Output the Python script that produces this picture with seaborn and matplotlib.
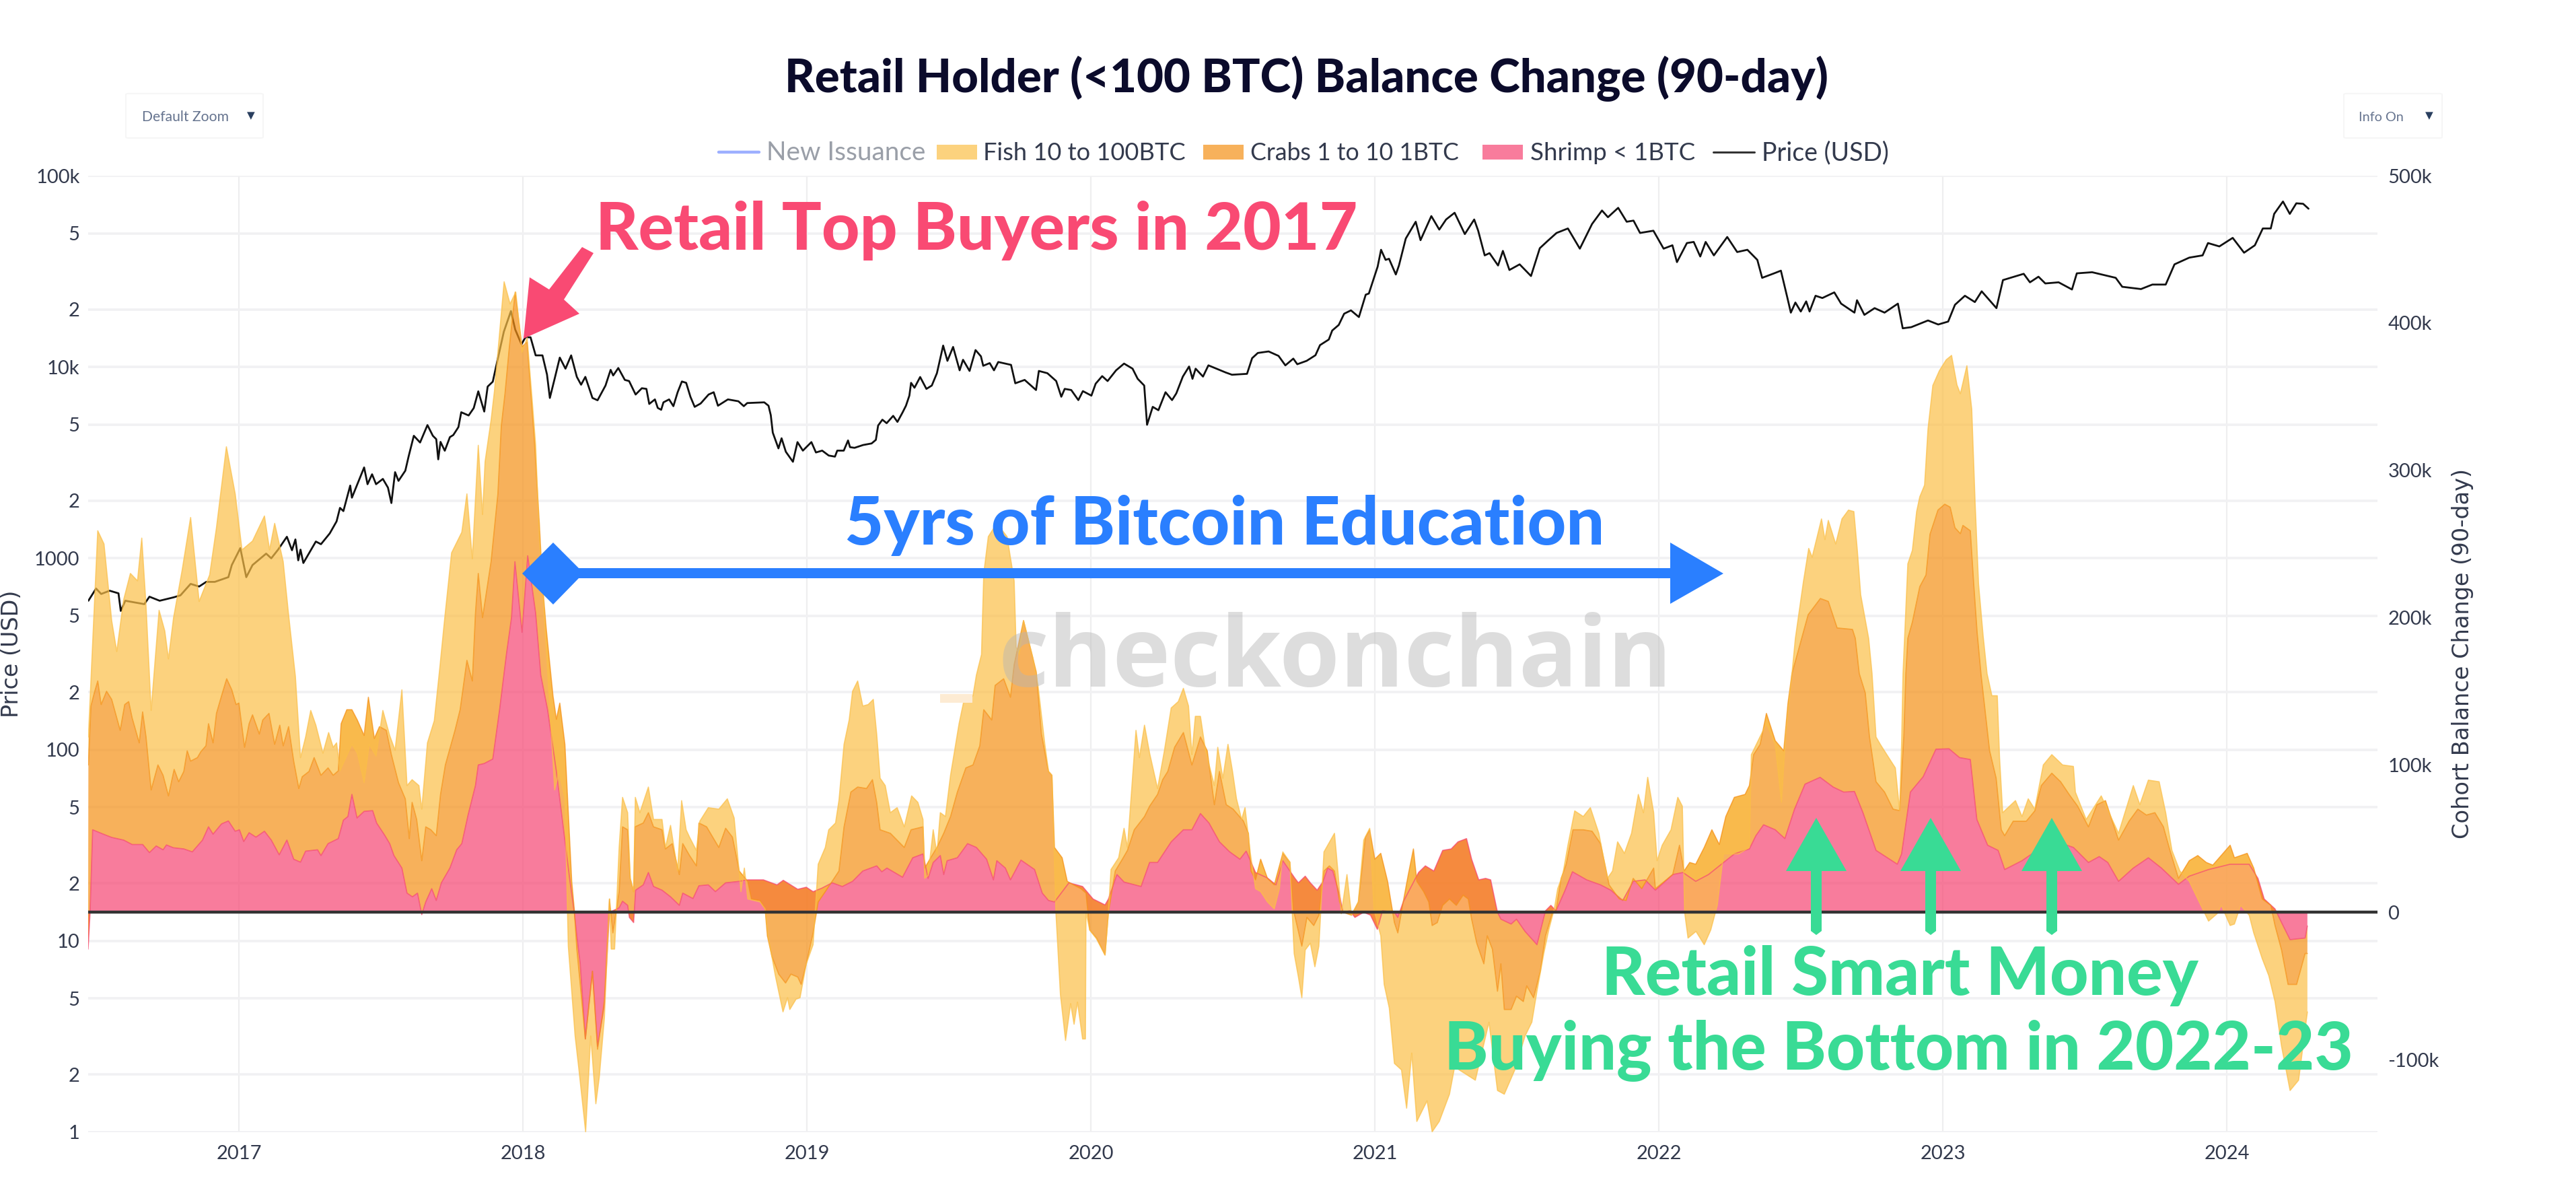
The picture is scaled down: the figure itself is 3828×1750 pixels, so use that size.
import numpy as np
import matplotlib
matplotlib.use("Agg")
import matplotlib.pyplot as plt
from matplotlib.patches import Polygon, Rectangle, FancyBboxPatch
from matplotlib.lines import Line2D
import seaborn as sns

W, H = 3828, 1750

# (decimal year, cohort balance change in thousand BTC, read as stacked edges)
shrimp = [(2016.469,-25),(2016.476,0),(2016.485,56),(2016.515,53.6),(2016.552,50.8),(2016.594,49),(2016.624,46),(2016.661,46),(2016.685,40.5),(2016.709,45),
 (2016.733,42.4),(2016.745,45.7),(2016.769,43.8),(2016.806,43),(2016.836,41),(2016.872,49),(2016.893,58),(2016.909,53),(2016.939,60),(2016.963,62),(2016.987,55),
 (2017.002,56),(2017.017,48),(2017.036,54),(2017.060,51),(2017.090,55),(2017.114,49),(2017.142,39),(2017.169,49),(2017.193,36),(2017.217,34),(2017.235,41.5),
 (2017.277,42.4),(2017.289,38.5),(2017.314,46.6),(2017.350,50),(2017.368,62.5),(2017.384,65),(2017.398,80),(2017.416,64),(2017.441,68.5),(2017.471,69),(2017.485,60.6),
 (2017.513,52.4),(2017.531,46.6),(2017.546,38.5),(2017.574,30),(2017.592,13),(2017.611,10.5),(2017.629,13),(2017.644,-1.6),(2017.658,7),(2017.679,16),(2017.695,8),
 (2017.713,20),(2017.743,30),(2017.767,42.4),(2017.785,46.6),(2017.807,66),(2017.833,86),(2017.843,100),(2017.864,101),(2017.894,104),(2017.918,137.5),(2017.942,175),
 (2017.960,200),(2017.972,238),(2017.997,190),(2018.017,242),(2018.045,203),(2018.063,161),(2018.087,137.5),(2018.118,95.6),(2018.142,58),(2018.166,21),(2018.181,0),
 (2018.190,-16),(2018.202,-35),(2018.220,-86),(2018.245,-40),(2018.263,-91),(2018.287,-63),(2018.305,0),(2018.339,3),(2018.351,7.5),(2018.369,4.7),(2018.375,-3.5),
 (2018.390,-7),(2018.397,15),(2018.424,18.6),(2018.442,27),(2018.460,17.5),(2018.490,15),(2018.520,10.5),(2018.551,4.7),(2018.563,13),(2018.599,9.3),(2018.620,18),
 (2018.653,18.6),(2018.678,14),(2018.714,20),(2018.762,21),(2018.792,22),(2018.847,22),(2018.895,18.6),(2018.917,21.7),(2018.968,15.6),(2018.998,17),(2019.022,14),
 (2019.052,16.3),(2019.089,20),(2019.125,17.5),(2019.161,21),(2019.197,28),(2019.246,31.5),(2019.264,27.5),(2019.282,30),(2019.337,23.8),(2019.373,37),(2019.409,39.6),
 (2019.427,23),(2019.445,33.8),(2019.470,38.5),(2019.482,25.6),(2019.494,35),(2019.530,37),(2019.566,46.6),(2019.597,44),(2019.633,36),(2019.657,22),(2019.669,35),
 (2019.699,30),(2019.717,22),(2019.754,35.4),(2019.802,29),(2019.829,13),(2019.851,8),(2019.872,7),(2019.923,20),(2019.971,17.5),(2020.008,9),(2020.050,5),(2020.062,9),
 (2020.092,25.6),(2020.117,20.5),(2020.177,17.5),(2020.207,33.8),(2020.235,33.8),(2020.283,47.8),(2020.326,56),(2020.356,56),(2020.386,67),(2020.416,60.6),(2020.453,47.8),
 (2020.489,41),(2020.525,36),(2020.547,41.5),(2020.562,35),(2020.580,27),(2020.622,23.3),(2020.652,18.6),(2020.676,35),(2020.719,23),(2020.731,20),(2020.755,24.5),
 (2020.773,20),(2020.797,15),(2020.818,21),(2020.834,30),(2020.852,28),(2020.876,11.6),(2020.888,0),(2020.912,1),(2020.930,-3.5),(2020.961,0),(2020.985,-2),(2021.009,-11.6),
 (2021.027,1),(2021.069,0),(2021.081,-3.5),(2021.100,7),(2021.154,27),(2021.178,31.5),(2021.208,28),(2021.239,42),(2021.269,43),(2021.293,47.8),(2021.323,50),(2021.341,36),
 (2021.366,22),(2021.390,23),(2021.408,22),(2021.432,0),(2021.444,-4.7),(2021.480,-8),(2021.499,-4.7),(2021.529,-13),(2021.571,-22),(2021.601,1),(2021.620,4.7),(2021.638,1),
 (2021.668,14),(2021.696,27.5),(2021.746,22),(2021.795,18.6),(2021.831,15),(2021.873,8),(2021.910,21),(2021.952,22),(2021.988,15),(2022.049,25.6),(2022.085,27),(2022.130,21),
 (2022.175,25.6),(2022.236,35),(2022.266,39.6),(2022.319,43),(2022.342,52),(2022.369,59.4),(2022.410,56),(2022.444,50),(2022.478,70),(2022.515,87),(2022.568,91.6),(2022.614,85),
 (2022.651,81.6),(2022.689,82),(2022.719,67.6),(2022.765,42),(2022.840,32.6),(2022.855,39.6),(2022.886,81.6),(2022.931,92),(2022.976,110.7),(2023.022,111),(2023.059,105),
 (2023.097,103.7),(2023.120,63),(2023.158,45.5),(2023.195,42),(2023.218,29),(2023.279,35),(2023.384,49),(2023.460,44),(2023.513,33.8),(2023.551,37.8),(2023.581,33.8),
 (2023.619,21),(2023.671,30),(2023.724,37),(2023.770,30),(2023.830,19),(2023.868,24.5),(2023.936,29),(2024.012,32.6),(2024.079,32.6),(2024.110,23),(2024.132,9),(2024.170,2.3),
 (2024.193,-7),(2024.223,-18.6),(2024.276,-17.5),(2024.284,-9.3)]

crabs_stacked = [(2016.470,100),(2016.479,140),(2016.491,149),(2016.503,157),(2016.515,141),(2016.534,150),(2016.552,144.5),(2016.582,123.5),(2016.598,141),(2016.612,143),
 (2016.624,132),(2016.649,115),(2016.661,136),(2016.673,119),(2016.691,83),(2016.715,100),(2016.733,93),(2016.752,79),(2016.772,97),(2016.788,88.6),(2016.806,95.6),(2016.818,109.6),
 (2016.830,102.6),(2016.854,105),(2016.866,109),(2016.884,113),(2016.893,128),(2016.909,115),(2016.921,135),(2016.939,147),(2016.957,158.5),(2016.975,151),(2016.990,141),(2017.0,142),
 (2017.020,112),(2017.036,128),(2017.048,134),(2017.072,121),(2017.084,130.5),(2017.106,135),(2017.126,114),(2017.144,127),(2017.156,113),(2017.175,126),(2017.193,102.6),(2017.211,84),
 (2017.223,92),(2017.247,95.6),(2017.265,105),(2017.289,93),(2017.314,98),(2017.332,93),(2017.350,96),(2017.360,128),(2017.380,137.5),(2017.398,137.5),(2017.417,130.5),(2017.441,120),
 (2017.456,146),(2017.477,118),(2017.495,126),(2017.519,123.5),(2017.537,107),(2017.562,88),(2017.586,77),(2017.600,50),(2017.610,74.6),(2017.626,63),(2017.644,35),(2017.658,58),
 (2017.676,56),(2017.695,52),(2017.710,80),(2017.727,100),(2017.761,123.5),(2017.779,137.5),(2017.803,171),(2017.822,157),(2017.833,203),(2017.843,230),(2017.858,200),(2017.888,238),
 (2017.912,284),(2017.924,330),(2017.937,352),(2017.952,383),(2017.973,421),(2017.997,384),(2018.015,387),(2018.040,322),(2018.058,264),(2018.069,223),(2018.082,193),(2018.106,147),
 (2018.118,131),(2018.130,142),(2018.148,114),(2018.160,67.6),(2018.172,21),(2018.181,2),(2018.190,-25),(2018.202,-49),(2018.220,-86),(2018.245,-40),(2018.263,-93),(2018.287,-60),
 (2018.305,9),(2018.317,-14),(2018.339,14),(2018.351,58),(2018.369,56),(2018.378,23),(2018.390,14),(2018.395,58),(2018.424,60.6),(2018.442,67.6),(2018.460,58),(2018.490,56),
 (2018.502,43),(2018.526,46.6),(2018.551,25.6),(2018.563,46.6),(2018.587,38.5),(2018.611,31.5),(2018.620,60.6),(2018.647,58),(2018.690,44),(2018.714,57),(2018.738,51),(2018.762,28),
 (2018.792,21),(2018.805,9),(2018.835,8),(2018.853,2.3),(2018.861,-16),(2018.877,-30),(2018.901,-42),(2018.925,-48),(2018.944,-42),(2018.968,-44),(2018.980,-49),(2018.998,-35),
 (2019.022,-14),(2019.040,7),(2019.065,14),(2019.089,21),(2019.113,28),(2019.131,58),(2019.155,81.6),(2019.179,85),(2019.210,84),(2019.231,90),(2019.246,74.6),(2019.258,56),
 (2019.294,53.6),(2019.343,44),(2019.367,56),(2019.409,58),(2019.415,30),(2019.433,36),(2019.458,44),(2019.482,53.6),(2019.506,65),(2019.530,81.6),(2019.560,98),(2019.585,100),
 (2019.609,113),(2019.623,137.5),(2019.651,130.5),(2019.663,154),(2019.693,158.5),(2019.717,146),(2019.730,168),(2019.763,198),(2019.796,172.5),(2019.808,163),(2019.826,121),
 (2019.851,95.6),(2019.863,93),(2019.872,44),(2019.899,37),(2019.917,21),(2019.935,19),(2019.965,16),(2019.983,13),(2019.996,-12),(2020.020,-17.5),(2020.050,-29),(2020.062,0),
 (2020.086,28),(2020.111,36),(2020.129,42),(2020.153,56),(2020.189,65),(2020.207,72),(2020.235,80),(2020.253,90),(2020.271,95.6),(2020.295,112),(2020.326,122),(2020.356,100),
 (2020.386,119),(2020.410,109.6),(2020.435,73),(2020.453,95.6),(2020.477,73),(2020.501,70),(2020.537,62),(2020.555,53.6),(2020.564,28),(2020.580,22),(2020.598,36),(2020.622,23),
 (2020.646,18.6),(2020.676,40),(2020.701,34),(2020.713,2),(2020.725,-8),(2020.743,-23),(2020.761,-3.5),(2020.785,-9),(2020.803,-2),(2020.821,28),(2020.840,31.5),(2020.858,28),
 (2020.876,7),(2020.888,0),(2020.918,-2),(2020.942,7),(2020.967,51),(2020.982,56),(2021.000,36),(2021.021,40),(2021.045,21),(2021.069,-7),(2021.081,-14),(2021.100,7),(2021.118,25.6),
 (2021.136,43),(2021.148,21),(2021.172,14),(2021.190,7),(2021.202,-9),(2021.220,-7),(2021.239,4.7),(2021.263,9),(2021.287,4.7),(2021.311,11.6),(2021.329,9),(2021.341,-4.7),
 (2021.359,-21),(2021.384,-35),(2021.396,-16),(2021.414,-25),(2021.432,-53.6),(2021.444,-35),(2021.456,-66),(2021.480,-66),(2021.499,-57),(2021.523,-60.6),(2021.535,-50),(2021.559,-58),
 (2021.583,-40),(2021.601,-16),(2021.626,0),(2021.638,1),(2021.656,23),(2021.674,32.6),(2021.698,56),(2021.734,56),(2021.765,55),(2021.795,46.6),(2021.813,30),(2021.825,18.6),
 (2021.861,9),(2021.885,8),(2021.910,23),(2021.940,16),(2021.982,30),(2021.988,16),(2022.049,25.6),(2022.073,45.5),(2022.089,28),(2022.109,33.8),(2022.130,32.6),(2022.160,44),
 (2022.187,56),(2022.213,46),(2022.236,65),(2022.266,78),(2022.304,80),(2022.319,86),(2022.334,107),(2022.357,114),(2022.379,135),(2022.410,116.5),(2022.440,109.6),(2022.455,142),
 (2022.469,162),(2022.526,202),(2022.569,213),(2022.597,211),(2022.628,193),(2022.682,192),(2022.692,186),(2022.706,162),(2022.727,149),(2022.742,119),(2022.765,88.6),(2022.795,81.6),
 (2022.825,70),(2022.848,69),(2022.863,120),(2022.870,162),(2022.877,186),(2022.893,197),(2022.919,221),(2022.941,229),(2022.955,256.6),(2022.983,273),(2023.007,277),(2023.026,275),
 (2023.043,261),(2023.062,257),(2023.071,262.6),(2023.097,259),(2023.109,223),(2023.121,190),(2023.135,161),(2023.165,109.6),(2023.188,91),(2023.206,56),(2023.218,52),(2023.248,61.8),
 (2023.294,61.8),(2023.324,68.8),(2023.347,86),(2023.384,94.4),(2023.415,88.6),(2023.445,80),(2023.475,72),(2023.513,58),(2023.543,73),(2023.573,75.8),(2023.619,49),(2023.656,61.8),
 (2023.687,70),(2023.717,66),(2023.747,67.6),(2023.777,58),(2023.800,42),(2023.830,23),(2023.868,35),(2023.898,38.5),(2023.928,33.8),(2023.951,32),(2024.012,45.5),(2024.027,37),
 (2024.072,40),(2024.095,30),(2024.125,9),(2024.155,4.7),(2024.170,-9),(2024.193,-25.6),(2024.216,-49),(2024.246,-49),(2024.276,-28),(2024.284,-28)]

fish_stacked = [(2016.470,119),(2016.503,259),(2016.525,250),(2016.552,198),(2016.570,177),(2016.594,212),(2016.618,230),(2016.643,225),(2016.658,254),(2016.673,208),(2016.691,137),
 (2016.719,205),(2016.739,191),(2016.752,172),(2016.770,200),(2016.800,232),(2016.830,268),(2016.860,211),(2016.897,229),(2016.921,261),(2016.956,316),(2016.987,284),(2017.011,246),
 (2017.048,252),(2017.090,269),(2017.108,246),(2017.126,264),(2017.156,238),(2017.175,202),(2017.199,160),(2017.217,105),(2017.235,119),(2017.253,137),(2017.271,127),(2017.296,108),
 (2017.316,122),(2017.332,112),(2017.344,115),(2017.356,96),(2017.398,114),(2017.417,108),(2017.441,88),(2017.459,114),(2017.483,106),(2017.507,137),(2017.531,120),(2017.550,110),
 (2017.574,151),(2017.592,86),(2017.610,90),(2017.634,86),(2017.644,70),(2017.664,115),(2017.688,130),(2017.707,165),(2017.725,200),(2017.749,244),(2017.785,258),(2017.803,284),
 (2017.822,240),(2017.843,317),(2017.858,270),(2017.867,306),(2017.888,334),(2017.900,354),(2017.934,428),(2017.955,413),(2017.975,421),(2017.997,380),(2018.015,390),(2018.033,347),
 (2018.045,317),(2018.058,253),(2018.069,223),(2018.088,161),(2018.112,83),(2018.127,95.6),(2018.148,77),(2018.160,-23),(2018.184,-84),(2018.197,-106),(2018.221,-149),(2018.239,-84),
 (2018.257,-130),(2018.269,-112),(2018.287,-72),(2018.305,9),(2018.311,-25),(2018.323,-25),(2018.339,44),(2018.351,78),(2018.369,67.6),(2018.378,23),(2018.390,14),(2018.396,78),
 (2018.412,67.6),(2018.442,85),(2018.460,63),(2018.490,63),(2018.502,44),(2018.520,59),(2018.545,28),(2018.559,75.8),(2018.575,56),(2018.587,51),(2018.611,42),(2018.623,61.8),
 (2018.653,71),(2018.690,70),(2018.720,77),(2018.744,64),(2018.768,14),(2018.780,30),(2018.792,9),(2018.835,7),(2018.853,2.3),(2018.865,-17.5),(2018.889,-43),(2018.916,-67.6),
 (2018.932,-58),(2018.940,-66),(2018.962,-59),(2018.976,-58),(2018.998,-35),(2019.022,-22),(2019.040,32.6),(2019.065,44),(2019.077,56),(2019.101,60.6),(2019.113,75.8),(2019.131,114),
 (2019.149,130.5),(2019.161,150),(2019.179,157),(2019.197,140),(2019.216,141),(2019.234,144.5),(2019.246,121),(2019.258,91),(2019.276,86),(2019.294,67.6),(2019.318,71),(2019.343,58),
 (2019.369,79),(2019.391,74.6),(2019.409,63),(2019.415,23),(2019.427,25),(2019.445,56),(2019.458,39.6),(2019.470,67.6),(2019.488,65),(2019.506,93),(2019.536,128),(2019.554,144.5),
 (2019.585,147),(2019.597,161),(2019.615,175),(2019.623,230),(2019.639,255),(2019.669,264),(2019.705,255),(2019.730,225),(2019.737,180),(2019.748,175),(2019.763,198),(2019.796,172.5),
 (2019.814,154),(2019.838,114),(2019.851,95.6),(2019.863,93),(2019.877,0),(2019.893,-56),(2019.911,-87),(2019.929,-62),(2019.941,-76),(2019.953,-61),(2019.971,-86),(2019.981,-86),
 (2019.983,0),(2019.996,-12),(2020.020,-18),(2020.050,-29),(2020.062,0),(2020.071,29),(2020.098,37),(2020.117,57),(2020.129,44),(2020.159,123.5),(2020.171,105),(2020.189,127),
 (2020.207,108),(2020.235,84),(2020.259,109.6),(2020.283,138.7),(2020.308,143),(2020.326,152),(2020.344,140),(2020.356,107),(2020.368,133),(2020.386,133),(2020.404,109.6),(2020.435,86),
 (2020.447,112),(2020.465,91),(2020.483,114),(2020.499,95.6),(2020.513,77),(2020.531,63),(2020.543,71),(2020.562,39.6),(2020.580,16),(2020.598,14),(2020.622,7),(2020.646,2.3),
 (2020.664,16),(2020.676,41),(2020.701,34),(2020.716,-28),(2020.731,-44),(2020.743,-58),(2020.755,-25.6),(2020.773,-21),(2020.789,-37),(2020.803,-23),(2020.821,41),(2020.858,53.6),
 (2020.870,28),(2020.882,-1),(2020.902,25.6),(2020.918,-2),(2020.942,7),(2020.961,49),(2020.982,57),(2020.997,2),(2021.021,-16),(2021.033,-49),(2021.051,-65),(2021.069,-102.6),
 (2021.094,-107),(2021.112,-133),(2021.130,-95.6),(2021.148,-142),(2021.166,-135),(2021.184,-128),(2021.202,-149),(2021.227,-142),(2021.263,-123.5),(2021.281,-105),(2021.354,-114),
 (2021.402,-74.6),(2021.432,-121),(2021.456,-123.5),(2021.493,-107),(2021.529,-84),(2021.553,-74.6),(2021.571,-53.6),(2021.595,-28),(2021.613,-11.6),(2021.632,2.3),(2021.644,16),
 (2021.662,25.6),(2021.680,45.5),(2021.704,68.8),(2021.734,65),(2021.759,71),(2021.789,53.6),(2021.819,23),(2021.837,28),(2021.855,47.8),(2021.879,40),(2021.904,53.6),(2021.928,80),
 (2021.946,67.6),(2021.961,91.6),(2021.982,67.6),(2021.994,35),(2022.012,45.5),(2022.043,56),(2022.067,78),(2022.083,72),(2022.091,0),(2022.103,-17.5),(2022.131,-13),(2022.160,-22),
 (2022.183,-12),(2022.206,4.7),(2022.228,39.6),(2022.281,39.6),(2022.319,44),(2022.326,107),(2022.379,128),(2022.410,114),(2022.432,74.6),(2022.447,121),(2022.462,149),(2022.469,162),
 (2022.481,186),(2022.509,224),(2022.528,247),(2022.540,241),(2022.573,267),(2022.585,253),(2022.597,266),(2022.623,250),(2022.645,267),(2022.668,273),(2022.687,272),(2022.699,246),
 (2022.711,215.5),(2022.727,198.6),(2022.739,186),(2022.751,162),(2022.765,119),(2022.780,114),(2022.803,107),(2022.833,98),(2022.848,69),(2022.855,114),(2022.860,162),(2022.877,236.5),
 (2022.893,245.7),(2022.908,272),(2022.919,282),(2022.936,290),(2022.948,328),(2022.965,357.6),(2022.988,367.6),(2023.012,375),(2023.031,378),(2023.050,358),(2023.062,352),(2023.085,371),
 (2023.102,341.6),(2023.114,277.6),(2023.126,223),(2023.142,188),(2023.156,162),(2023.173,147),(2023.192,147),(2023.200,105),(2023.211,67.6),(2023.256,75.8),(2023.279,65),(2023.301,77),
 (2023.324,70),(2023.354,100),(2023.384,107),(2023.422,100),(2023.460,99),(2023.467,81.6),(2023.505,63),(2023.558,79),(2023.619,53.6),(2023.671,86),(2023.694,73),(2023.724,89.7),
 (2023.762,88.6),(2023.785,67.6),(2023.807,42),(2023.835,28),(2023.868,21),(2023.898,9),(2023.936,-6),(2023.966,-1),(2023.981,4.7),(2024.012,-9),(2024.027,-8),(2024.049,4.7),(2024.079,-2),
 (2024.095,-14),(2024.125,-31.5),(2024.148,-43),(2024.170,-60.6),(2024.193,-91),(2024.223,-121),(2024.253,-114),(2024.284,-67.6)]

price = [(2016.470,600),(2016.497,695),(2016.515,651),(2016.545,677),(2016.576,656),(2016.584,531),(2016.600,600),(2016.667,576),(2016.685,630),(2016.721,600),(2016.770,625),(2016.794,640),
 (2016.830,735),(2016.860,712),(2016.885,753),(2016.915,753),(2016.963,797),(2016.975,922),(2017.005,1130),(2017.026,797),(2017.048,922),(2017.096,1058),(2017.114,1000),(2017.138,1110),
 (2017.169,1296),(2017.187,1102),(2017.199,1255),(2017.209,976),(2017.217,1110),(2017.227,945),(2017.271,1224),(2017.289,1185),(2017.320,1350),(2017.344,1560),(2017.356,1835),(2017.368,1765),
 (2017.392,2400),(2017.398,2075),(2017.441,2985),(2017.453,2440),(2017.469,2750),(2017.483,2440),(2017.507,2600),(2017.525,2340),(2017.537,1945),(2017.550,2820),(2017.562,2540),(2017.586,2870),
 (2017.598,3425),(2017.616,4370),(2017.638,4030),(2017.664,4970),(2017.683,4370),(2017.695,4195),(2017.702,3290),(2017.710,4060),(2017.725,3650),(2017.743,4300),(2017.755,4410),(2017.773,4850),
 (2017.783,5800),(2017.809,5580),(2017.827,6100),(2017.843,7460),(2017.864,5850),(2017.876,7900),(2017.894,8380),(2017.912,11100),(2017.933,15300),(2017.958,19600),(2017.973,15700),(2017.995,13150),
 (2018.009,14300),(2018.027,14300),(2018.045,11500),(2018.069,11500),(2018.085,9130),(2018.095,6890),(2018.112,8700),(2018.130,11200),(2018.150,9800),(2018.170,11500),(2018.190,8880),(2018.205,8080),
 (2018.220,8880),(2018.245,6890),(2018.263,6700),
 (2018.291,8000),(2018.309,9665),(2018.318,9030),(2018.336,9880),(2018.359,8560),(2018.374,8445),(2018.397,7180),(2018.419,7745),(2018.435,7685),(2018.445,6410),(2018.465,6770),(2018.475,6110),
 (2018.487,5975),(2018.495,6535),(2018.515,6770),(2018.530,6240),(2018.545,7380),(2018.560,8400),(2018.575,8265),(2018.590,6990),(2018.605,6190),(2018.626,6445),(2018.654,7180),(2018.672,7380),
 (2018.687,6275),(2018.722,6770),(2018.759,6620),(2018.778,6240),(2018.790,6480),(2018.850,6535),(2018.865,6275),(2018.873,5600),(2018.880,4540),(2018.900,3755),(2018.911,4240),(2018.926,3605),
 (2018.951,3195),(2018.967,4050),(2018.986,3655),(2019.016,4050),(2019.032,3575),(2019.054,3655),(2019.077,3445),(2019.099,3400),(2019.107,3655),(2019.130,3655),(2019.145,4130),(2019.152,3810),
 (2019.168,3780),(2019.198,3910),(2019.228,3985),(2019.243,4160),(2019.251,4945),(2019.266,5305),(2019.281,5085),(2019.304,5555),(2019.319,5165),(2019.337,5785),(2019.349,6275),(2019.361,7085),
 (2019.367,8265),(2019.379,7790),(2019.399,8865),(2019.421,7685),(2019.440,8000),(2019.458,9280),(2019.480,12940),(2019.495,10770),(2019.515,12730),(2019.538,9610),(2019.550,10910),(2019.573,9535),
 (2019.594,12260),(2019.613,11370),(2019.621,10150),(2019.644,10480),(2019.659,9610),(2019.674,10620),(2019.719,10260),(2019.734,8220),(2019.767,8560),(2019.807,7580),(2019.817,9535),(2019.847,9280),
 (2019.878,8445),(2019.896,6990),(2019.908,7685),(2019.931,7580),(2019.956,6715),(2019.972,7480),(2020.002,7085),(2020.017,8180),(2020.040,8960),(2020.059,8445),(2020.089,9610),(2020.117,10420),
 (2020.147,9800),(2020.165,8675),(2020.188,8000),(2020.198,4990),(2020.218,6190),(2020.238,5945),(2020.263,7380),(2020.286,6715),(2020.301,7280),(2020.324,8910),(2020.346,10060),(2020.358,8675),
 (2020.369,9800),(2020.395,8910),(2020.414,10200),(2020.475,9360),(2020.497,9110),(2020.550,9210),(2020.568,11120),(2020.588,11840),(2020.626,12060),(2020.661,11430),
 (2020.685,10200),(2020.713,11060),(2020.727,10340),(2020.760,10770),(2020.791,11520),(2020.807,13010),(2020.838,13920),(2020.850,15510),(2020.873,16590),(2020.892,18990),(2020.916,19770),(2020.944,18240),
 (2020.968,23880),(2020.979,24210),(2021.010,33470),(2021.022,40990),(2021.038,36300),(2021.050,36790),(2021.074,30450),(2021.085,33930),(2021.109,46920),(2021.144,57450),(2021.161,46030),(2021.199,61500),
 (2021.227,52270),(2021.251,59030),(2021.281,64000),(2021.317,49520),(2021.350,59030),(2021.364,51570),(2021.387,38320),(2021.404,39370),(2021.434,33930),(2021.451,40440),(2021.474,32140),(2021.510,34400),
 (2021.550,29890),(2021.581,41780),(2021.609,45660),(2021.640,50200),(2021.680,52980),(2021.722,41550),(2021.765,55920),(2021.800,65770),(2021.821,60670),(2021.857,67920),(2021.887,57450),(2021.911,58240),
 (2021.934,50200),(2021.981,51570),(2022.017,41550),(2022.048,43270),(2022.064,35340),(2022.099,44450),(2022.123,45060),(2022.146,37800),(2022.165,45060),(2022.194,38320),(2022.241,47820),(2022.276,39900),
 (2022.312,40990),(2022.347,36300),(2022.364,29250),(2022.406,30870),(2022.430,31880),(2022.453,22940),(2022.465,19240),(2022.481,21730),(2022.500,19500),(2022.519,22030),(2022.531,19500),(2022.552,23570),
 (2022.576,22940),(2022.618,24550),(2022.642,21440),(2022.689,19240),(2022.698,22330),(2022.724,18730),(2022.760,20310),(2022.795,19240),(2022.842,21440),(2022.859,15930),(2022.889,16150),(2022.948,17510),
 (2022.984,16680),(2023.019,17280),(2023.043,21150),(2023.078,23570),(2023.113,21850),(2023.137,24870),(2023.189,20310),(2023.212,28470),(2023.285,30700),(2023.307,27710),(2023.337,29650),(2023.361,27340),
 (2023.408,27710),(2023.455,25420),(2023.472,30870),(2023.526,31290),(2023.609,29250),(2023.632,26260),(2023.698,25550),(2023.738,26970),(2023.785,26970),(2023.816,34400),(2023.868,37300),(2023.915,38320),
 (2023.934,44450),(2023.974,42690),(2024.021,47310),(2024.061,39580),(2024.099,43270),(2024.127,52980),(2024.155,52980),(2024.167,63150),(2024.198,73300),(2024.222,63150),(2024.245,71720),(2024.269,71300),(2024.288,67200)]

year_ticks = [2017, 2018, 2019, 2020, 2021, 2022, 2023, 2024]
price_ticks = [1, 2, 5, 10, 20, 50, 100, 200, 500, 1000, 2000, 5000, 10000, 20000, 50000, 100000]
price_labels = ["1", "2", "5", "10", "2", "5", "100", "2", "5", "1000", "2", "5", "10k", "2", "5", "100k"]
cohort_ticks = [-100, 0, 100, 200, 300, 400, 500]
cohort_labels = ["-100k", "0", "100k", "200k", "300k", "400k", "500k"]

FISH = (251/255, 191/255, 71/255, 0.7)
CRAB = (245/255, 145/255, 22/255, 0.7)
PINK = (246/255, 69/255, 114/255, 0.7)
FONT = "Lato"


def px(x, y):
    return x / W, 1 - y / H


def fit_text(fig, x0, x1, y, s, color, weight=900, size=60, family=FONT):
    # left edge, right edge and baseline are in picture pixels
    t = fig.text(*px(x0, y), s, color=color, fontweight=weight, fontsize=size,
                 family=family, ha="left", va="baseline", zorder=20)
    w = t.get_window_extent(fig.canvas.get_renderer()).width
    t.set_fontsize(size * (x1 - x0) / w)
    return t


def poly(fig, pts, color, zorder=15):
    xy = [px(a, b) for a, b in pts]
    fig.add_artist(Polygon(xy, closed=True, facecolor=color, edgecolor="none",
                           transform=fig.transFigure, zorder=zorder))


def band(ax, upper, lower, face):
    up = np.array(upper)
    lo = np.array(lower)[::-1]
    ax.fill(np.r_[up[:, 0], lo[:, 0]], np.r_[up[:, 1], lo[:, 1]], color=face, lw=0)
    sns.lineplot(x=up[:, 0], y=up[:, 1], ax=ax, color=face, lw=1.2, estimator=None, errorbar=None)


def main():
    sns.set_theme(style="white")
    plt.rcParams["font.family"] = [FONT, "DejaVu Sans"]
    fig = plt.figure(figsize=(W / 100, H / 100), dpi=100, facecolor="white")
    ax = fig.add_axes([131 / W, 1 - 1682 / H, (3533 - 131) / W, (1682 - 261) / H])

    # price sits under the fills, same as the source chart
    p = np.array(price)
    ax.set_yscale("log")
    sns.lineplot(x=p[:, 0], y=p[:, 1], ax=ax, color="#111111", lw=2, estimator=None, errorbar=None, zorder=3)
    ax.set_xlim(2017 - 224 / 422, 2017 + (3533 - 355) / 422)
    ax.set_ylim(1, 100000)
    ax.set_yticks(price_ticks)
    ax.set_yticklabels(price_labels)
    ax.minorticks_off()
    ax.set_xticks(year_ticks)
    ax.set_xticklabels([str(y) for y in year_ticks])
    ax.tick_params(axis="both", length=0, labelsize=21, labelcolor="#333a4d")
    ax.tick_params(axis="x", pad=14)
    ax.tick_params(axis="y", pad=9)
    ax.grid(True, axis="y", color="#f1f1f3", lw=2.6)
    ax.grid(True, axis="x", color="#eeeeef", lw=1.6)
    ax.set_axisbelow(True)
    sns.despine(ax=ax, left=True, bottom=True)
    fig.text(18 / W, 1 - 971 / H, "Price (USD)", rotation=90, ha="center", va="center",
             fontsize=24, color="#333a4d", family="DejaVu Sans")

    ax2 = ax.twinx()
    ax2.patch.set_visible(False)
    ax2.set_ylim((1355 - 1682) / 2.19, (1355 - 261) / 2.19)
    s = np.array(shrimp)
    ax2.fill(np.r_[s[:, 0], s[-1, 0], s[0, 0]], np.r_[s[:, 1], 0, 0], color=PINK, lw=0)
    sns.lineplot(x=s[:, 0], y=s[:, 1], ax=ax2, color=PINK, lw=1.2, estimator=None, errorbar=None)
    band(ax2, crabs_stacked, shrimp, CRAB)
    band(ax2, fish_stacked, crabs_stacked, FISH)
    ax2.axhline(0, color="#333333", lw=3.2, zorder=6)
    ax2.set_yticks(cohort_ticks)
    ax2.set_yticklabels(cohort_labels)
    ax2.tick_params(axis="y", length=0, labelsize=21, labelcolor="#333a4d", pad=11)
    ax2.grid(False)
    sns.despine(ax=ax2, left=True, bottom=True, right=True)
    fig.text(3659 / W, 1 - 971 / H, "Cohort Balance Change (90-day)", rotation=90, ha="center", va="center",
             fontsize=24.2, color="#333a4d", family="DejaVu Sans")

    # watermark
    fit_text(fig, 1484, 2485, 1020, "checkonchain", "#b5b5b5", weight="bold", size=120, family="Open Sans").set_alpha(0.45)
    fig.add_artist(Rectangle(px(1397, 1044), 48 / W, 13 / H, facecolor="#fdebd3", edgecolor="none",
                             transform=fig.transFigure, zorder=1))

    # title, legend row, the two dropdown boxes
    fit_text(fig, 1166, 2717, 137, "Retail Holder (<100 BTC) Balance Change (90-day)", "#0b0b2b", size=50)
    row = 226
    fig.add_artist(Line2D([1068 / W, 1128 / W], [1 - row / H] * 2, color="#9dafff", lw=3.2, transform=fig.transFigure))
    for x0, col in [(1392, FISH), (1788, CRAB), (2203, PINK)]:
        fig.add_artist(Rectangle(px(x0, row + 11), 60 / W, 22 / H, facecolor=col, edgecolor="none", transform=fig.transFigure))
    fig.add_artist(Line2D([2546 / W, 2607 / W], [1 - row / H] * 2, color="#333333", lw=2.2, transform=fig.transFigure))
    legend_items = [(1139, 1375, "New Issuance", "#9a9fa8"), (1461, 1762, "Fish 10 to 100BTC", "#333a4d"),
                    (1858, 2168, "Crabs 1 to 10 1BTC", "#333a4d"), (2274, 2519, "Shrimp < 1BTC", "#333a4d"),
                    (2618, 2807, "Price (USD)", "#333a4d")]
    for x0, x1, label, col in legend_items:
        fit_text(fig, x0, x1, row + 12, label, col, weight="normal", size=26)

    for x0, x1, label, t0, t1, arrow_x in [(187, 391, "Default Zoom", 211, 340, 373), (3483, 3629, "Info On", 3505, 3572, 3610)]:
        fig.add_artist(FancyBboxPatch(px(x0, 205), (x1 - x0) / W, 66 / H, boxstyle="round,pad=0,rounding_size=0.001",
                                      facecolor="white", edgecolor="#f6f6f6", lw=1.5, transform=fig.transFigure))
        fit_text(fig, t0, t1, 180, label, "#66748f", weight="normal", size=15)
        fig.text(arrow_x / W, 1 - 172 / H, "\u25bc", fontsize=11, color="#2a3f5f", ha="center", va="center", family="DejaVu Sans")

    # pink callout arrow
    pink = "#f94a73"
    poly(fig, [(778, 503), (787, 412), (816, 430), (865, 367), (882, 376), (838, 445), (861, 466)], pink)
    fit_text(fig, 885, 2018, 371, "Retail Top Buyers in 2017", pink, size=70)

    # blue span arrow
    blue = "#2a7fff"
    poly(fig, [(776, 852), (822, 806), (860, 844), (2482, 844), (2482, 806), (2561, 852), (2482, 897), (2482, 859), (860, 859), (822, 898)], blue)
    fit_text(fig, 1255, 2384, 809, "5yrs of Bitcoin Education", blue, size=70)

    # green arrows and text
    green = "#39db95"
    for tip in [2699, 2869, 3049]:
        poly(fig, [(tip, 1215), (tip + 45, 1294), (tip + 8, 1294), (tip + 8, 1383), (tip, 1389), (tip - 8, 1383), (tip - 8, 1294), (tip - 45, 1294)], green)
    fit_text(fig, 2380, 3267, 1478, "Retail Smart Money", green, size=70)
    fit_text(fig, 2146, 3498, 1589, "Buying the Bottom in 2022-23", green, size=70)

    fig.savefig("out.png", dpi=100, facecolor="white")


if __name__ == '__main__':
    main()
